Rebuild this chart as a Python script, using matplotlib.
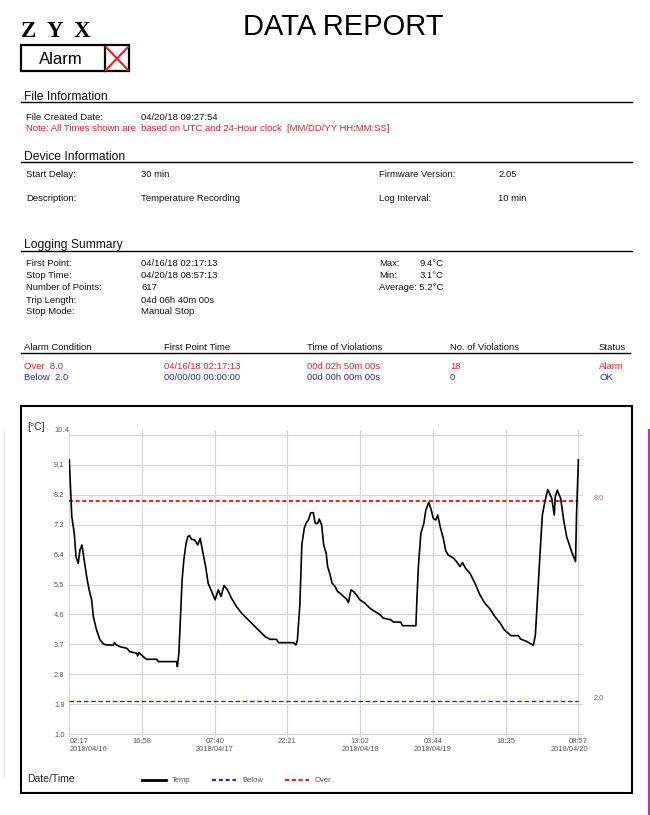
import numpy as np
import matplotlib.pyplot as plt
from matplotlib.lines import Line2D
from matplotlib.patches import Rectangle
from matplotlib.transforms import ScaledTranslation

plt.rcParams['font.family'] = ['Liberation Sans', 'DejaVu Sans']
plt.rcParams['lines.scale_dashes'] = False

W, H = 650, 815

# ---- logged data (hours after first point, temperature in C) ----
elapsed_h = [0.0, 0.5, 1.0, 1.35, 1.8, 2.15, 2.55, 3.0, 3.5, 4.0, 4.5, 4.85, 5.5, 6.2, 6.9,
             7.5, 8.9, 9.1, 9.5, 10.2, 11.6, 12.2, 13.6, 13.8, 14.05, 14.9, 15.6, 17.6, 17.95,
             21.65, 21.8, 22.1, 22.45, 22.75, 23.1, 23.55, 23.9, 24.2, 24.7, 25.3, 25.9, 26.4,
             26.9, 27.5, 28.0, 28.7, 29.4, 30.05, 30.6, 31.2, 31.9, 32.7, 33.7, 34.8, 35.8, 36.8,
             37.8, 38.5, 39.5, 40.5, 41.8, 42.2, 45.2, 45.7, 46.0, 46.5, 46.9, 47.4, 47.8, 48.2,
             48.7, 49.2, 49.6, 50.1, 50.4, 50.9, 51.3, 51.8, 52.1, 52.6, 53.0, 53.6, 54.1, 54.6,
             55.3, 55.9, 56.3, 56.8, 57.3, 57.9, 58.6, 59.6, 60.6, 61.6, 62.7, 63.3, 64.8, 65.4,
             66.8, 67.2, 69.9, 70.1, 70.4, 70.9, 71.5, 71.9, 72.5, 73.0, 73.4, 73.9, 74.3, 74.8,
             75.5, 75.9, 76.4, 77.5, 78.1, 78.8, 79.3, 79.9, 80.8, 81.8, 82.8, 83.8, 84.8, 85.8,
             86.9, 87.7, 88.3, 89.1, 90.6, 91.0, 92.2, 93.6, 94.0, 94.4, 94.9, 95.4, 95.9, 96.5,
             97.3, 97.8, 98.0, 98.4, 99.1, 99.7, 100.3, 101.3, 102.1, 102.3, 102.67]
temp_c = [9.25, 7.55, 7.04, 6.34, 6.14, 6.54, 6.69, 6.24, 5.74, 5.34, 5.04, 4.53, 4.13, 3.83, 3.71,
          3.68, 3.68, 3.75, 3.68, 3.63, 3.58, 3.48, 3.43, 3.35, 3.45, 3.33, 3.25, 3.25, 3.18,
          3.18, 3.03, 3.43, 4.64, 5.64, 6.24, 6.74, 6.94, 6.97, 6.86, 6.84, 6.69, 6.89,
          6.49, 6.04, 5.54, 5.29, 5.04, 5.34, 5.14, 5.47, 5.34, 5.09, 4.84, 4.63, 4.48, 4.33,
          4.18, 4.08, 3.93, 3.85, 3.85, 3.75, 3.75, 3.68, 3.83, 4.9, 6.7, 7.2, 7.36, 7.44,
          7.66, 7.66, 7.34, 7.34, 7.47, 7.29, 6.69, 6.44, 6.04, 5.79, 5.54, 5.44, 5.29, 5.24,
          5.14, 5.06, 4.96, 5.34, 5.29, 5.19, 5.04, 4.94, 4.79, 4.69, 4.59, 4.49, 4.44, 4.37,
          4.37, 4.26, 4.26, 5.04, 6.04, 7.04, 7.34, 7.74, 7.97, 7.74, 7.49, 7.44, 7.59, 7.24,
          6.84, 6.52, 6.39, 6.29, 6.19, 6.04, 6.16, 5.99, 5.84, 5.54, 5.19, 4.94, 4.77, 4.54,
          4.34, 4.14, 4.06, 3.96, 3.96, 3.86, 3.79, 3.67, 3.99, 5.04, 6.34, 7.59, 7.99, 8.36,
          8.09, 7.59, 8.14, 8.34, 8.09, 7.44, 6.94, 6.49, 6.19, 7.64, 9.25]

over_limit = 8.0
below_limit = 2.0
trip_hours = 4 * 24 + 6 + 40 / 60

x_tick_labels = ['02:17\n2018/04/16', '16:58', '07:40\n2018/04/17', '22:21',
                 '13:02\n2018/04/18', '03:44\n2018/04/19', '18:25', '08:57\n2018/04/20']
y_ticks = [1.0, 1.9, 2.8, 3.7, 4.6, 5.5, 6.4, 7.3, 8.2, 9.1, 10.0]
y_tick_labels = ['1.0', '1.9', '2.8', '3.7', '4.6', '5.5', '6.4', '7.3', '8.2', '9.1', '10.4']

# ---- report texts ----
file_info = [('File Created Date:', '04/20/18 09:27:54')]
note_text = 'Note: All Times shown are  based on UTC and 24-Hour clock  [MM/DD/YY HH:MM:SS]'
device_left = [('Start Delay:', '30 min'), ('Description:', 'Temperature Recording')]
device_right = [('Firmware Version:', '2.05'), ('Log Interval:', '10 min')]
summary_left = [('First Point:', '04/16/18 02:17:13'), ('Stop Time:', '04/20/18 08:57:13'),
                ('Number of Points:', '617'), ('Trip Length:', '04d 06h 40m 00s'),
                ('Stop Mode:', 'Manual Stop')]
summary_right = [('Max:', '9.4°C'), ('Min:', '3.1°C'), ('Average: 5.2°C', '')]
alarm_cols = ['Alarm Condition', 'First Point Time', 'Time of Violations', 'No. of Violations', 'Status']
alarm_rows = [['Over  8.0', '04/16/18 02:17:13', '00d 02h 50m 00s', '18', 'Alarm'],
              ['Below  2.0', '00/00/00 00:00:00', '00d 00h 00m 00s', '0', 'OK']]

RED = '#e0202c'
BLUE = '#2a2aa8'
TXT = '#111111'

fig = plt.figure(figsize=(W / 100, H / 100), dpi=100)


def put(x, y, s, size=6.8, color=TXT, **kw):
    fig.text(x / W, 1 - y / H, s, fontsize=size, color=color, va='baseline', **kw)


def rule(y, x0=21, x1=632, lw=1.0, color='black'):
    fig.add_artist(Line2D([x0 / W, x1 / W], [1 - y / H, 1 - y / H], color=color, lw=lw,
                          transform=fig.transFigure))


# header
put(20.7, 37.3, 'Z  Y  X', size=16.5, color='black', family='Liberation Serif', weight='bold')
put(343, 35, 'DATA REPORT', size=21, color='black', ha='center')
fig.add_artist(Rectangle((21 / W, 1 - 71 / H), 108 / W, 26 / H, fill=False, lw=1.6,
                         ec='black', transform=fig.transFigure))
fig.add_artist(Line2D([104.5 / W] * 2, [1 - 45 / H, 1 - 71 / H], color='black', lw=1.6,
                      transform=fig.transFigure))
fig.add_artist(Line2D([106 / W, 128 / W], [1 - 47 / H, 1 - 70 / H], color=RED, lw=1.5,
                      transform=fig.transFigure))
fig.add_artist(Line2D([106 / W, 128 / W], [1 - 70 / H, 1 - 47 / H], color=RED, lw=1.5,
                      transform=fig.transFigure))
put(61, 64, 'Alarm', size=12, color='black', ha='center')

# file information
put(24, 99.5, 'File Information', size=8.7)
rule(102)
for k, v in file_info:
    put(26, 120.4, k)
    put(141, 120.4, v)
put(26, 131.4, note_text, color=RED)

# device information
put(24, 159.5, 'Device Information', size=8.7)
rule(162)
for i, (k, v) in enumerate(device_left):
    put(26, 177.4 + 24 * i, k)
    put(141, 177.4 + 24 * i, v)
for i, (k, v) in enumerate(device_right):
    put(379, 177.4 + 24 * i, k)
    put(498, 177.4 + 24 * i, v)

# logging summary
put(24, 248, 'Logging Summary', size=8.7)
rule(251)
for i, (k, v) in enumerate(summary_left):
    put(26, 266.5 + 12 * i, k)
    put(141, 266.5 + 12 * i, v)
for i, (k, v) in enumerate(summary_right):
    put(379, 266.5 + 12 * i, k)
    put(420, 266.5 + 12 * i, v)

# alarm table
col_x = [24, 164, 307, 450, 599]
for x, s in zip(col_x, alarm_cols):
    put(x, 350.5, s)
rule(353, x1=630)
for r, (row, c) in enumerate(zip(alarm_rows, [RED, BLUE])):
    for x, s in zip(col_x, row):
        put(x, 368.5 + 12 * r, s, color=c)

# chart frame and page marks
fig.add_artist(Rectangle((21 / W, 1 - 793 / H), 611 / W, 387 / H, fill=False, lw=1.5,
                         ec='black', transform=fig.transFigure))
fig.add_artist(Line2D([648.5 / W] * 2, [1 - 430 / H, 0], color='#c424e4', lw=2.2,
                      transform=fig.transFigure))
fig.add_artist(Line2D([3.5 / W] * 2, [1 - 428 / H, 1 - 778 / H], color='#ececec', lw=0.8,
                      transform=fig.transFigure))

# ---- chart ----
ax = fig.add_axes([69.3 / W, 1 - 736.7 / H, (583 - 69.3) / W, (736.7 - 430) / H])
ax.plot(elapsed_h, temp_c, color='black', lw=1.2, zorder=4)
ax.hlines(over_limit, 0, trip_hours, colors='#e8202e', linestyles=(0, (2.9, 1.9)), lw=1.5, zorder=3)
ax.hlines(below_limit, 0, trip_hours, colors='#2828b4', linestyles=(0, (3.3, 1.9)), lw=0.95, zorder=3)
ax.text(1.021, over_limit + 0.08, f'{over_limit:.1f}', transform=ax.get_yaxis_transform(),
        fontsize=5.3, color='#e05060', va='center', ha='left')
ax.text(1.021, below_limit + 0.08, f'{below_limit:.1f}', transform=ax.get_yaxis_transform(),
        fontsize=5.3, color='#5a5ac0', va='center', ha='left')

ax.set_xlim(0, 103.6)
ax.set_ylim(0.92, 10.15)
ax.set_xticks(np.linspace(0, trip_hours, 8))
ax.set_xticklabels(x_tick_labels, fontsize=5.4, color='#555555', linespacing=1.15)
ax.set_yticks(y_ticks)
ax.set_yticklabels(y_tick_labels, fontsize=5.4, color='#555555')
ax.tick_params(axis='x', length=0, pad=1)
ax.tick_params(axis='y', length=0, pad=11)
ax.grid(True, color='#d4d4d4', lw=0.8)
ax.set_axisbelow(True)
for s in ax.spines.values():
    s.set_visible(False)

for lab in ax.get_yticklabels():
    lab.set_ha('left')
top_lab = ax.get_yticklabels()[-1]
top_lab.set_transform(top_lab.get_transform() + ScaledTranslation(0, 0.05, fig.dpi_scale_trans))
xl = ax.get_xticklabels()
xl[0].set_ha('left')
xl[-1].set_ha('right')
xl[-1].set_transform(xl[-1].get_transform() + ScaledTranslation(0.095, 0, fig.dpi_scale_trans))

put(27, 430.5, '[°C]', size=7.5, color='#222222')
put(27, 782.5, 'Date/Time', size=7.5, color='#222222')

handles = [Line2D([], [], color='black', lw=2.0),
           Line2D([], [], color='#2828c8', lw=1.6, dashes=(2.9, 2.0)),
           Line2D([], [], color='#e8202e', lw=1.6, dashes=(2.9, 2.0))]
fig.legend(handles, ['Temp', 'Below', 'Over'], loc='center left',
           bbox_to_anchor=(142 / W, 1 - 780.5 / H), ncol=3, frameon=False, fontsize=5.5,
           labelcolor='#555555', handlelength=3.1, handletextpad=0.8, columnspacing=2.9,
           borderpad=0, borderaxespad=0)

fig.savefig('out.png', dpi=100)
